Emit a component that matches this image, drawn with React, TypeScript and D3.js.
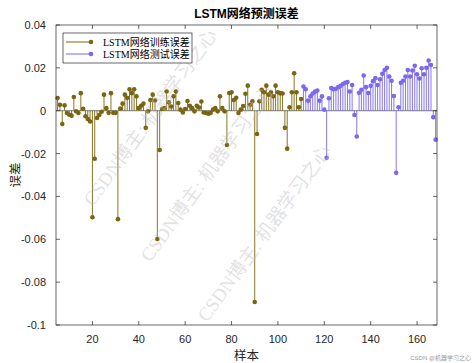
import * as d3 from 'd3';

// x positions of the samples
const trainStart = 5;
const testStart = 111;

// LSTM training-set error, samples 5..110
const trainError = [
  0.0059, 0.0028, -0.0062, 0.0025, -0.0011, -0.0019, -0.0023, 0.0064, -0.0003, -0.0011,
  0.0082, 0.0009, -0.0026, -0.0039, -0.005, -0.0497, -0.0224, -0.0034, -0.002, -0.0005,
  0.0075, 0.0012, -0.001, 0.0082, -0.001, -0.001, -0.0506, 0.001, 0.0033, 0.0075,
  0.006, 0.01, 0.0082, 0.01, 0.0067, 0.0012, 0.0023, 0.0033, -0.008, -0.0003,
  0.005, 0.0075, 0.0048, -0.0599, -0.0183, 0.0008, 0.0012, 0.009, 0.0039, 0.002,
  0.0067, 0.009, 0.0036, 0.0005, -0.0008, 0.0008, 0.0045, 0.0023, 0.0012, -0.0003,
  0.0023, 0.0015, 0.0043, -0.0008, -0.0011, -0.0014, -0.0011, 0.0005, 0.0012, -0.0003,
  0.0067, 0.0012, -0.0003, -0.016, 0.0083, 0.0086, 0.005, 0.006, -0.0011, 0.0005,
  0.0022, 0.0079, 0.0117, 0.0028, 0.0044, -0.0893, -0.0109, 0.0044, 0.0098, 0.0086,
  0.0117, 0.0075, 0.0086, 0.0067, 0.0117, 0.0086, 0.0082, 0.008, -0.008, -0.0177,
  0.0016, 0.0086, 0.0175, 0.0086, 0.0016, 0.0055,
];

// LSTM test-set error, samples 111..168
const testError = [
  0.0113, 0.01, 0.0047, 0.0067, 0.008, 0.0089, 0.0094, 0.0047, 0.0067, 0.0005,
  -0.022, 0.0058, 0.0106, 0.01, 0.0102, 0.011, 0.0116, 0.0125, 0.013, 0.0134,
  0.009, 0.012, -0.002, -0.012, 0.0084, 0.0098, 0.0164, 0.011, 0.0083, 0.0116,
  0.0138, 0.0152, 0.012, 0.0147, 0.0172, 0.019, 0.02, 0.016, 0.014, 0.0069,
  -0.029, 0.0016, 0.013, 0.014, 0.016, 0.019, 0.016, 0.0188, 0.021, 0.017,
  0.015, 0.0198, 0.017, 0.02, 0.0234, 0.0213, -0.003, -0.0135,
];

const xTicks = [20, 40, 60, 80, 100, 120, 140, 160];
const yTicks = [-0.1, -0.08, -0.06, -0.04, -0.02, 0, 0.02, 0.04];
const legendLabels = ['LSTM网络训练误差', 'LSTM网络测试误差'];
const trainColor = '#7a6510';
const testColor = '#7b68ee';

const W = 474;
const H = 363;
const left = 56;
const right = 437;
const top = 25;
const bottom = 325;

const serif = '"Liberation Serif", "Noto Sans CJK SC", serif';
const sans = '"Liberation Sans", Arial, "Noto Sans CJK SC", sans-serif';

const Stems = ({ values, start, color, x, y }) => (
  <g>
    {values.map((v, i) => (
      <line key={'l' + i} x1={x(start + i)} x2={x(start + i)} y1={y(0)} y2={y(v)}
        stroke={color} strokeWidth={0.9} />
    ))}
    {values.map((v, i) => (
      <circle key={'c' + i} cx={x(start + i)} cy={y(v)} r={2.3} fill={color} />
    ))}
  </g>
);

export default function App() {
  const x = d3.scaleLinear().domain([4.3, 168.6]).range([left, right]);
  const y = d3.scaleLinear().domain([-0.1, 0.04]).range([bottom, top]);
  const fmt = (d) => (d === 0 ? '0' : String(+d.toFixed(2)));
  const axisColor = '#262626';

  const watermark = 'CSDN博主: 机器学习之心';

  return (
    <svg width={W} height={H} style={{ position: 'absolute', left: 0, top: 0, background: '#fff' }}>
      <rect x={0} y={0} width={W} height={H} fill="#fff" />
      <rect x={left} y={top} width={right - left} height={bottom - top} fill="#fff" />

      <line x1={left} x2={right} y1={y(0)} y2={y(0)} stroke="#555" strokeWidth={0.8} />
      <Stems values={trainError} start={trainStart} color={trainColor} x={x} y={y} />
      <Stems values={testError} start={testStart} color={testColor} x={x} y={y} />

      {/* watermarks */}
      {[[93, 207], [150, 263], [207, 323]].map(([sx, sy], i) => (
        <text key={i} transform={`translate(${sx},${sy}) rotate(-54)`} textAnchor="start"
          fontFamily={serif} fontSize={19} fill="#bdbdbd" fillOpacity={0.45}>{watermark}</text>
      ))}

      {/* axes box and ticks */}
      <rect x={left} y={top} width={right - left} height={bottom - top} fill="none"
        stroke={axisColor} strokeWidth={0.7} />
      {xTicks.map((t) => (
        <g key={'x' + t}>
          <line x1={x(t)} x2={x(t)} y1={bottom} y2={bottom - 4} stroke={axisColor} strokeWidth={0.7} />
          <line x1={x(t)} x2={x(t)} y1={top} y2={top + 4} stroke={axisColor} strokeWidth={0.7} />
          <text x={x(t)} y={343} textAnchor="middle" fontFamily={sans} fontSize={11} fill="#262626">{t}</text>
        </g>
      ))}
      {yTicks.map((t) => (
        <g key={'y' + t}>
          <line x1={left} x2={left + 4} y1={y(t)} y2={y(t)} stroke={axisColor} strokeWidth={0.7} />
          <line x1={right} x2={right - 4} y1={y(t)} y2={y(t)} stroke={axisColor} strokeWidth={0.7} />
          <text x={46} y={y(t) + 4} textAnchor="end" fontFamily={sans} fontSize={11} fill="#262626">{fmt(t)}</text>
        </g>
      ))}

      <text x={(left + right) / 2} y={18} textAnchor="middle" fontFamily={sans} fontSize={12}
        fontWeight="bold" fill="#000">LSTM网络预测误差</text>
      <text x={(left + right) / 2} y={360} textAnchor="middle" fontFamily={serif} fontSize={12.5}
        fill="#262626">样本</text>
      <text transform={`translate(19.5,${(top + bottom) / 2}) rotate(-90)`} textAnchor="middle"
        fontFamily={serif} fontSize={12.5} fill="#262626">误差</text>

      {/* legend */}
      <g>
        <rect x={63} y={33} width={129} height={30} fill="#fff" stroke={axisColor} strokeWidth={0.7} />
        {legendLabels.map((lab, i) => {
          const ly = 42 + i * 12;
          const c = i === 0 ? trainColor : testColor;
          return (
            <g key={lab}>
              <line x1={66} x2={91} y1={ly} y2={ly} stroke={c} strokeWidth={1} />
              <circle cx={91} cy={ly} r={2.3} fill={c} />
              <text x={103} y={ly + 3.5} fontFamily={serif} fontSize={10} fill="#000">{lab}</text>
            </g>
          );
        })}
      </g>

      <text x={471} y={360} textAnchor="end" fontFamily={sans} fontSize={6} fill="#999">CSDN @机器学习之心</text>
    </svg>
  );
}
